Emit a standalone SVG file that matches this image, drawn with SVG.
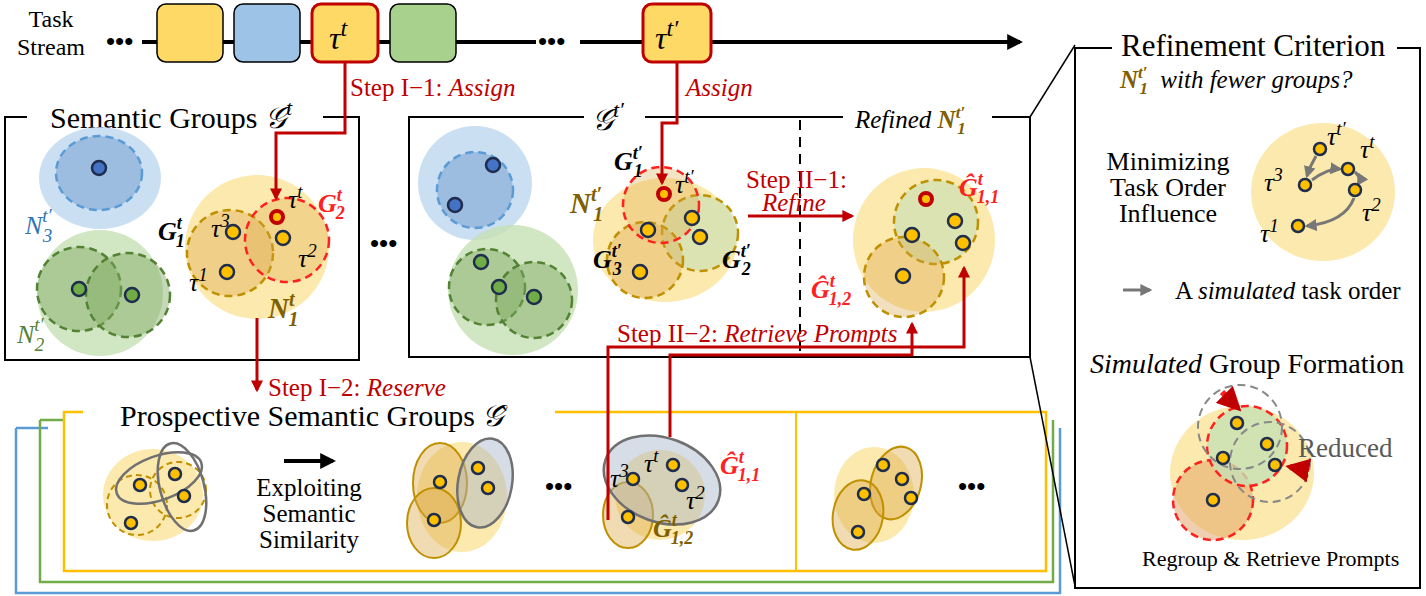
<svg xmlns="http://www.w3.org/2000/svg" width="1426" height="596" viewBox="0 0 1426 596" font-family="'Liberation Serif', 'Times New Roman', 'DejaVu Serif', serif">
<defs>
<marker id="ar" viewBox="0 0 10 10" refX="8" refY="5" markerWidth="4" markerHeight="4" orient="auto"><path d="M0,0L10,5L0,10z" fill="#C00000"/></marker>
<marker id="ab" viewBox="0 0 10 10" refX="8" refY="5" markerWidth="4" markerHeight="4" orient="auto"><path d="M0,0L10,5L0,10z" fill="#000"/></marker>
<marker id="ag" viewBox="0 0 10 10" refX="8" refY="5" markerWidth="4" markerHeight="4" orient="auto"><path d="M0,0L10,5L0,10z" fill="#777"/></marker>
</defs>
<style>
text{font-family:"Liberation Serif","Times New Roman","DejaVu Serif",serif;fill:#000}
.t22{font-size:25px}.t26{font-size:30px}
.red{fill:#C00000}.it{font-style:italic}
.m{font-style:italic;font-size:26px}
.bi{font-style:italic;font-weight:bold;font-size:26px}
.frame{fill:none;stroke:#000;stroke-width:2}
.rl{fill:none;stroke:#C00000;stroke-width:3}
.d{fill:#FFC000;stroke:#1F2D4D;stroke-width:2.5}
.rdot{fill:#FFC000;stroke:#C00000;stroke-width:4}
.yb{fill:#FCE5A0;opacity:.85}
.bb{fill:#BDD7EE;opacity:.8}
.gb{fill:#C5E0B4;opacity:.8}
.dbl{fill:#7FA7D6;fill-opacity:.6;stroke:#5B9BD5;stroke-width:2.5;stroke-dasharray:8 5}
.dgr{fill:#7FA860;fill-opacity:.45;stroke:#548235;stroke-width:2.5;stroke-dasharray:8 5}
.dbr{fill:#D9A441;fill-opacity:.35;stroke:#BF9000;stroke-width:2.5;stroke-dasharray:8 5}
.drd{fill:#D9A441;fill-opacity:.3;stroke:#FF2020;stroke-width:2.5;stroke-dasharray:8 5}
.eb{fill:#D9A441;fill-opacity:.4;stroke:#BF9000;stroke-width:2}
.eg{fill:#A6B4C8;fill-opacity:.45;stroke:#707070;stroke-width:2.5}
.dg{fill:none;stroke:#888;stroke-width:2;stroke-dasharray:8 5}
.ga{fill:none;stroke:#777;stroke-width:3;marker-end:url(#ag)}
</style>

<g id="stream">
<text x="51" y="27" text-anchor="middle" style="font-size:24px">Task</text>
<text x="51" y="55" text-anchor="middle" style="font-size:24px">Stream</text>
<line x1="142" y1="42" x2="1020" y2="42" stroke="#000" stroke-width="4" marker-end="url(#ab)"/>
<text x="106" y="50" style="font-size:26px;font-weight:bold">•••</text>
<rect x="536" y="34" width="44" height="16" fill="#fff"/>
<text x="538" y="50" style="font-size:26px;font-weight:bold">•••</text>
<rect x="157" y="4" width="66" height="58" rx="9" fill="#FFD966" stroke="#000" stroke-width="1.5"/>
<rect x="234" y="4" width="66" height="58" rx="9" fill="#9DC3E6" stroke="#000" stroke-width="1.5"/>
<rect x="312" y="4" width="66" height="58" rx="9" fill="#FFD966" stroke="#C00000" stroke-width="3"/>
<rect x="390" y="4" width="66" height="58" rx="9" fill="#A9D18E" stroke="#000" stroke-width="1.5"/>
<rect x="643" y="4" width="68" height="58" rx="9" fill="#FFD966" stroke="#C00000" stroke-width="3"/>
<text x="329" y="49" style="font-size:32px;font-style:italic">τ<tspan dy="-13" font-size="24">t</tspan></text>
<text x="655" y="49" style="font-size:32px;font-style:italic">τ<tspan dy="-13" font-size="24">t′</tspan></text>
</g>

<g id="semantic-groups">
<path class="frame" d="M27,117H5V360H359V117H323"/>
<text class="t26" x="50" y="128">Semantic Groups <tspan class="it">𝒢</tspan><tspan class="it" dy="-13" font-size="22">t</tspan></text>
<ellipse class="bb" cx="100" cy="178" rx="61" ry="51"/>
<ellipse class="dbl" cx="99" cy="173" rx="43" ry="37"/>
<circle class="d" cx="99" cy="168" r="7" style="fill:#4472C4"/>
<text class="m" x="25" y="234" style="fill:#2E75B6">N<tspan dy="-12" font-size="19">t′</tspan><tspan dx="-9" dy="20" font-size="19">3</tspan></text>
<circle class="gb" cx="100" cy="293" r="63"/>
<circle class="dgr" cx="79" cy="289" r="42"/>
<circle class="dgr" cx="128" cy="295" r="42"/>
<circle class="d" cx="79" cy="289" r="7" style="fill:#70AD47"/>
<circle class="d" cx="132" cy="295" r="7" style="fill:#70AD47"/>
<text class="m" x="17" y="343" style="fill:#548235">N<tspan dy="-12" font-size="19">t′</tspan><tspan dx="-9" dy="20" font-size="19">2</tspan></text>
<circle class="yb" cx="257" cy="247" r="72"/>
<circle class="dbr" cx="230" cy="253" r="43"/>
<circle class="drd" cx="287" cy="240" r="42"/>
<circle class="rdot" cx="277" cy="217" r="6"/>
<circle class="d" cx="283" cy="238" r="7"/>
<circle class="d" cx="233" cy="232" r="7"/>
<circle class="d" cx="227" cy="272" r="7"/>
<text class="m" x="288" y="208">τ<tspan dy="-10" font-size="19">t</tspan></text>
<text class="bi" x="318" y="212" style="fill:#FF2020">G<tspan dy="-11" font-size="18">t</tspan><tspan dx="-6" dy="18" font-size="18">2</tspan></text>
<text class="bi" x="158" y="240">G<tspan dy="-11" font-size="18">t</tspan><tspan dx="-6" dy="18" font-size="18">1</tspan></text>
<text class="m" x="211" y="237">τ<tspan dy="-10" font-size="19">3</tspan></text>
<text class="m" x="298" y="267">τ<tspan dy="-10" font-size="19">2</tspan></text>
<text class="m" x="189" y="291">τ<tspan dy="-10" font-size="19">1</tspan></text>
<text class="bi" x="268" y="318" style="fill:#7F6000;font-size:29px">N<tspan dy="-12" font-size="20">t</tspan><tspan dx="-6" dy="20" font-size="20">1</tspan></text>
</g>
<text x="370" y="252" style="font-size:26px;font-weight:bold">•••</text>

<g id="current-groups">
<path class="frame" d="M584,117H409V357H1030V117H992M843,117H645"/>
<line x1="800" y1="120" x2="800" y2="357" stroke="#000" stroke-width="2" stroke-dasharray="10 7"/>
<text class="t26 it" x="592" y="130">𝒢<tspan dy="-13" font-size="22">t′</tspan></text>
<text class="t22 it" x="855" y="128">Refined <tspan font-weight="bold" style="fill:#7F6000">N</tspan><tspan dy="-10" font-size="17" font-weight="bold" style="fill:#7F6000">t′</tspan><tspan dx="-8" dy="16" font-size="17" font-weight="bold" style="fill:#7F6000">1</tspan></text>
<circle class="bb" cx="475" cy="183" r="57"/>
<circle class="dbl" cx="475" cy="190" r="38"/>
<circle class="d" cx="493" cy="165" r="7" style="fill:#4472C4"/>
<circle class="d" cx="455" cy="205" r="7" style="fill:#4472C4"/>
<ellipse class="gb" cx="513" cy="290" rx="65" ry="65"/>
<circle class="dgr" cx="487" cy="287" r="38"/>
<circle class="dgr" cx="534" cy="300" r="38"/>
<circle class="d" cx="481" cy="262" r="7" style="fill:#70AD47"/>
<circle class="d" cx="499" cy="287" r="7" style="fill:#70AD47"/>
<circle class="d" cx="534" cy="297" r="7" style="fill:#70AD47"/>
<ellipse class="yb" cx="665" cy="240" rx="72" ry="62"/>
<circle class="dbr" cx="700" cy="233" r="38" style="fill:#C5E0B4;fill-opacity:.6"/>
<circle class="dbr" cx="645" cy="260" r="38"/>
<circle class="drd" cx="661" cy="205" r="38"/>
<circle class="rdot" cx="664" cy="194" r="6"/>
<circle class="d" cx="692" cy="218" r="7"/>
<circle class="d" cx="648" cy="230" r="7"/>
<circle class="d" cx="700" cy="237" r="7"/>
<circle class="d" cx="640" cy="272" r="7"/>
<text class="bi" x="614" y="170">G<tspan dy="-11" font-size="18">t′</tspan><tspan dx="-9" dy="18" font-size="18">1</tspan></text>
<text class="m" x="675" y="193">τ<tspan dy="-10" font-size="19">t′</tspan></text>
<text class="bi" x="570" y="213" style="fill:#7F6000;font-size:29px">N<tspan dy="-12" font-size="20">t′</tspan><tspan dx="-9" dy="20" font-size="20">1</tspan></text>
<text class="bi" x="593" y="268">G<tspan dy="-11" font-size="18">t′</tspan><tspan dx="-9" dy="18" font-size="18">3</tspan></text>
<text class="bi" x="722" y="268">G<tspan dy="-11" font-size="18">t′</tspan><tspan dx="-9" dy="18" font-size="18">2</tspan></text>
<ellipse class="yb" cx="924" cy="240" rx="71" ry="72"/>
<circle class="dbr" cx="936" cy="222" r="42" style="fill:#C5E0B4;fill-opacity:.6"/>
<circle class="dbr" cx="904" cy="277" r="40"/>
<circle class="rdot" cx="926" cy="199" r="6"/>
<circle class="d" cx="955" cy="221" r="7"/>
<circle class="d" cx="912" cy="235" r="7"/>
<circle class="d" cx="963" cy="243" r="7"/>
<circle class="d" cx="903" cy="276" r="7"/>
<text class="bi" x="959" y="196" style="fill:#FF2020">Ĝ<tspan dy="-11" font-size="18">t</tspan><tspan dx="-6" dy="18" font-size="18">1,1</tspan></text>
<text class="bi" x="811" y="298" style="fill:#FF2020">Ĝ<tspan dy="-11" font-size="18">t</tspan><tspan dx="-6" dy="18" font-size="18">1,2</tspan></text>
</g>

<g id="prospective">
<path d="M16,428H48M16,428V593H1060V428" fill="none" stroke="#5B9BD5" stroke-width="2.5"/>
<path d="M40,420H64M40,420V582H1053V420" fill="none" stroke="#70AD47" stroke-width="2.5"/>
<path d="M83,412H64V571H1046V412H555" fill="none" stroke="#FFC000" stroke-width="2.5"/>
<line x1="796" y1="412" x2="796" y2="571" stroke="#FFC000" stroke-width="2"/>
<text class="t26" x="120" y="426">Prospective Semantic Groups <tspan class="it">𝒢̂</tspan></text>
<ellipse class="yb" cx="153" cy="495" rx="50" ry="46"/>
<circle cx="137" cy="505" r="30" fill="none" stroke="#BF9000" stroke-width="2" stroke-dasharray="6 4"/>
<circle cx="178" cy="490" r="28" fill="none" stroke="#BF9000" stroke-width="2" stroke-dasharray="6 4"/>
<ellipse cx="159" cy="478" rx="45" ry="22" transform="rotate(-20 159 478)" fill="none" stroke="#707070" stroke-width="2.5"/>
<ellipse cx="182" cy="487" rx="22" ry="45" transform="rotate(-15 182 487)" fill="none" stroke="#707070" stroke-width="2.5"/>
<circle class="d" cx="140" cy="485" r="6"/>
<circle class="d" cx="175" cy="474" r="6"/>
<circle class="d" cx="184" cy="496" r="6"/>
<circle class="d" cx="131" cy="523" r="6"/>
<line x1="284" y1="461" x2="333" y2="461" stroke="#000" stroke-width="4" marker-end="url(#ab)"/>
<text class="t22" x="309" y="496" text-anchor="middle">Exploiting</text>
<text class="t22" x="309" y="522" text-anchor="middle">Semantic</text>
<text class="t22" x="309" y="548" text-anchor="middle">Similarity</text>
<ellipse class="yb" cx="462" cy="497" rx="45" ry="55"/>
<ellipse class="eb" cx="440" cy="483" rx="27" ry="40"/>
<ellipse class="eb" cx="434" cy="523" rx="27" ry="35"/>
<ellipse class="eg" cx="485" cy="483" rx="27" ry="45" transform="rotate(10 485 483)"/>
<circle class="d" cx="478" cy="468" r="6"/>
<circle class="d" cx="440" cy="482" r="6"/>
<circle class="d" cx="488" cy="488" r="6"/>
<circle class="d" cx="434" cy="520" r="6"/>
<text x="545" y="495" style="font-size:26px;font-weight:bold">•••</text>
<ellipse class="yb" cx="660" cy="495" rx="45" ry="45"/>
<ellipse class="eb" cx="628" cy="515" rx="25" ry="33"/>
<ellipse class="eg" cx="662" cy="480" rx="60" ry="42" transform="rotate(20 662 480)"/>
<circle class="d" cx="633" cy="479" r="6"/>
<circle class="d" cx="673" cy="465" r="6"/>
<circle class="d" cx="682" cy="485" r="6"/>
<circle class="d" cx="628" cy="517" r="6"/>
<text class="m" x="610" y="487">τ<tspan dy="-10" font-size="19">3</tspan></text>
<text class="m" x="644" y="472">τ<tspan dy="-10" font-size="19">t</tspan></text>
<text class="m" x="686" y="509">τ<tspan dy="-10" font-size="19">2</tspan></text>
<text class="bi" x="720" y="474" style="fill:#FF2020">Ĝ<tspan dy="-11" font-size="18">t</tspan><tspan dx="-6" dy="18" font-size="18">1,1</tspan></text>
<text class="bi" x="653" y="537" style="fill:#7F6000">Ĝ<tspan dy="-11" font-size="18">t</tspan><tspan dx="-6" dy="18" font-size="18">1,2</tspan></text>
<ellipse class="yb" cx="874" cy="495" rx="40" ry="48"/>
<ellipse class="eb" cx="896" cy="483" rx="25" ry="37" transform="rotate(15 896 483)"/>
<ellipse class="eb" cx="858" cy="515" rx="25" ry="35" transform="rotate(10 858 515)"/>
<circle class="d" cx="883" cy="465" r="6"/>
<circle class="d" cx="902" cy="479" r="6"/>
<circle class="d" cx="911" cy="498" r="6"/>
<circle class="d" cx="864" cy="494" r="6"/>
<circle class="d" cx="858" cy="532" r="6"/>
<text x="958" y="495" style="font-size:26px;font-weight:bold">•••</text>
</g>

<g id="refinement-criterion">
<path class="frame" d="M1112,48H1075V588H1420V48H1397"/>
<text x="1121" y="56" style="font-size:31px">Refinement Criterion</text>
<text class="t22 it" x="1120" y="88"><tspan font-weight="bold" style="fill:#7F6000">N</tspan><tspan dy="-10" font-size="17" font-weight="bold" style="fill:#7F6000">t′</tspan><tspan dx="-8" dy="16" font-size="17" font-weight="bold" style="fill:#7F6000">1</tspan><tspan dx="6" dy="-6"> with fewer groups?</tspan></text>
<text x="1168" y="170" text-anchor="middle" style="font-size:26px">Minimizing</text>
<text x="1168" y="196" text-anchor="middle" style="font-size:26px">Task Order</text>
<text x="1168" y="222" text-anchor="middle" style="font-size:26px">Influence</text>
<ellipse class="yb" cx="1323" cy="192" rx="72" ry="69"/>
<path class="ga" d="M1316,156Q1310,166 1307,176"/>
<path class="ga" d="M1312,180Q1328,168 1340,169"/>
<path class="ga" d="M1355,172Q1362,178 1358,184"/>
<path class="ga" d="M1354,198Q1345,222 1307,226"/>
<circle class="d" cx="1320" cy="149" r="6"/>
<circle class="d" cx="1348" cy="169" r="6"/>
<circle class="d" cx="1355" cy="190" r="6"/>
<circle class="d" cx="1305" cy="185" r="6"/>
<circle class="d" cx="1298" cy="226" r="6"/>
<text class="m" x="1327" y="145">τ<tspan dy="-10" font-size="19">t′</tspan></text>
<text class="m" x="1360" y="158">τ<tspan dy="-10" font-size="19">t</tspan></text>
<text class="m" x="1264" y="191">τ<tspan dy="-10" font-size="19">3</tspan></text>
<text class="m" x="1362" y="221">τ<tspan dy="-10" font-size="19">2</tspan></text>
<text class="m" x="1260" y="242">τ<tspan dy="-10" font-size="19">1</tspan></text>
<path class="ga" d="M1123,290H1150"/>
<text x="1175" y="299" style="font-size:25px">A <tspan class="it">simulated</tspan> task order</text>
<text x="1090" y="373" style="font-size:28px"><tspan class="it">Simulated</tspan> Group Formation</text>
<ellipse class="yb" cx="1242" cy="473" rx="72" ry="67"/>
<circle class="drd" cx="1213" cy="500" r="40" style="fill:#E0A060;fill-opacity:.5"/>
<circle class="drd" cx="1247" cy="446" r="40" style="fill:#C5E0B4;fill-opacity:.8"/>
<circle class="dg" cx="1240" cy="427" r="42"/>
<circle class="dg" cx="1270" cy="462" r="40"/>
<circle class="d" cx="1237" cy="423" r="6"/>
<circle class="d" cx="1267" cy="444" r="6"/>
<circle class="d" cx="1223" cy="458" r="6"/>
<circle class="d" cx="1275" cy="465" r="6"/>
<circle class="d" cx="1213" cy="500" r="6"/>
<path d="M1222,392L1238,408" stroke="#FF2020" stroke-width="6" marker-end="url(#ar)"/>
<path d="M1306,470L1290,467" stroke="#FF2020" stroke-width="6" marker-end="url(#ar)"/>
<text x="1298" y="457" style="fill:#595959;font-size:27px">Reduced</text>
<text x="1142" y="566" style="font-size:22px">Regroup &amp; Retrieve Prompts</text>
</g>

<g id="connectors">
<path class="rl" d="M345,62V133H276V198" marker-end="url(#ar)"/>
<path class="rl" d="M677,62V123H662V183" marker-end="url(#ar)"/>
<path class="rl" d="M257,318V390" marker-end="url(#ar)"/>
<path class="rl" d="M748,216H852" marker-end="url(#ar)"/>
<path class="rl" d="M608,520V347H964V268" marker-end="url(#ar)"/>
<path class="rl" d="M670,437V355H912V324" marker-end="url(#ar)"/>
<line x1="1030" y1="117" x2="1075" y2="45" stroke="#000" stroke-width="1.5"/>
<line x1="1030" y1="357" x2="1075" y2="586" stroke="#000" stroke-width="1.5"/>
</g>
<text class="t22 red" x="350" y="96">Step I−1: <tspan class="it">Assign</tspan></text>
<text class="t22 red it" x="686" y="96">Assign</text>
<text class="t22 red" x="268" y="396">Step I−2: <tspan class="it">Reserve</tspan></text>
<text class="t22 red" x="746" y="188">Step II−1:</text>
<text class="t22 red it" x="762" y="211">Refine</text>
<text class="t22 red" x="617" y="342">Step II−2: <tspan class="it">Retrieve Prompts</tspan></text>
</svg>
